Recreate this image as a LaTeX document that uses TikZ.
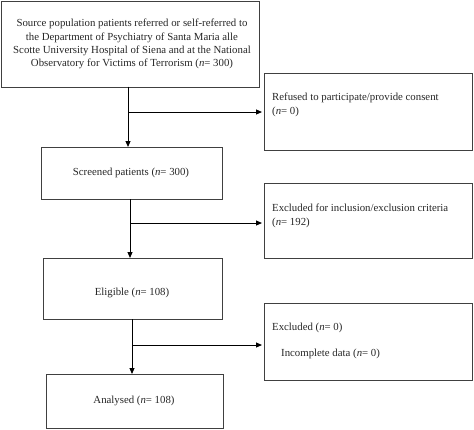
\documentclass[tikz,border=0pt]{standalone}
\usepackage{fontspec}
\setmainfont{Liberation Serif}
\usetikzlibrary{arrows.meta}
\begin{document}
\begin{tikzpicture}[x=1pt,y=-1pt,
  box/.style={draw=black!75, line width=0.9pt, rectangle, inner sep=0pt, anchor=north west},
  txt/.style={inner sep=0pt, font=\fontsize{10.8}{13.2}\selectfont, text=black!85},
  arr/.style={draw=black, line width=1pt, -{Triangle[length=6pt,width=5pt]}},
  ln/.style={draw=black, line width=1pt}]
\useasboundingbox (0,0) rectangle (474,429);
% main column
\node[box, minimum width=258, minimum height=86] (src) at (0.5,0.5) {};
\node[txt, align=center, anchor=center] (srct) at (132,44) {Source population patients referred or self-referred to\\the Department of Psychiatry of Santa Maria alle\\Scotte University Hospital of Siena and at the National\\Observatory for Victims of Terrorism (\textit{n}= 300)};
\node[box, minimum width=181, minimum height=52] (scr) at (41,147) {};
\node[txt, anchor=center] (scrt) at (131,173) {Screened patients (\textit{n}= 300)};
\node[box, minimum width=179, minimum height=61] (eli) at (43,258) {};
\node[txt, anchor=center] (elit) at (132,293) {Eligible (\textit{n}= 108)};
\node[box, minimum width=177, minimum height=54] (ana) at (46,374) {};
\node[txt, anchor=center] (anat) at (134,401) {Analysed (\textit{n}= 108)};
% side boxes
\node[box, minimum width=208, minimum height=77] (ref) at (264,73) {};
\node[txt, align=left, anchor=north west] (reft) at (272,93) {Refused to participate/provide consent\\(\textit{n}= 0)};
\node[box, minimum width=208, minimum height=75] (exc) at (264,183) {};
\node[txt, align=left, anchor=north west] (exct) at (272,204) {Excluded for inclusion/exclusion criteria\\(\textit{n}= 192)};
\node[box, minimum width=208, minimum height=77] (ex0) at (264,303) {};
\node[txt, anchor=west] (ex0a) at (272,328) {Excluded (\textit{n}= 0)};
\node[txt, anchor=west] (ex0b) at (281,354) {Incomplete data (\textit{n}= 0)};
% connectors
\coordinate (t1) at (128,86.5);
\coordinate (b1) at (128,112);
\coordinate (t2) at (130,199);
\coordinate (b2) at (130,223);
\coordinate (t3) at (132,319);
\coordinate (b3) at (132,345);
\draw[arr] (t1) -- (t1 |- scr.north);
\draw[arr] (b1) -- ([xshift=-2pt]b1 -| ref.west);
\draw[arr] (t2) -- (t2 |- eli.north);
\draw[arr] (b2) -- ([xshift=-2pt]b2 -| exc.west);
\draw[arr] (t3) -- (t3 |- ana.north);
\draw[arr] (b3) -- ([xshift=-2pt]b3 -| ex0.west);
\end{tikzpicture}
\end{document}
